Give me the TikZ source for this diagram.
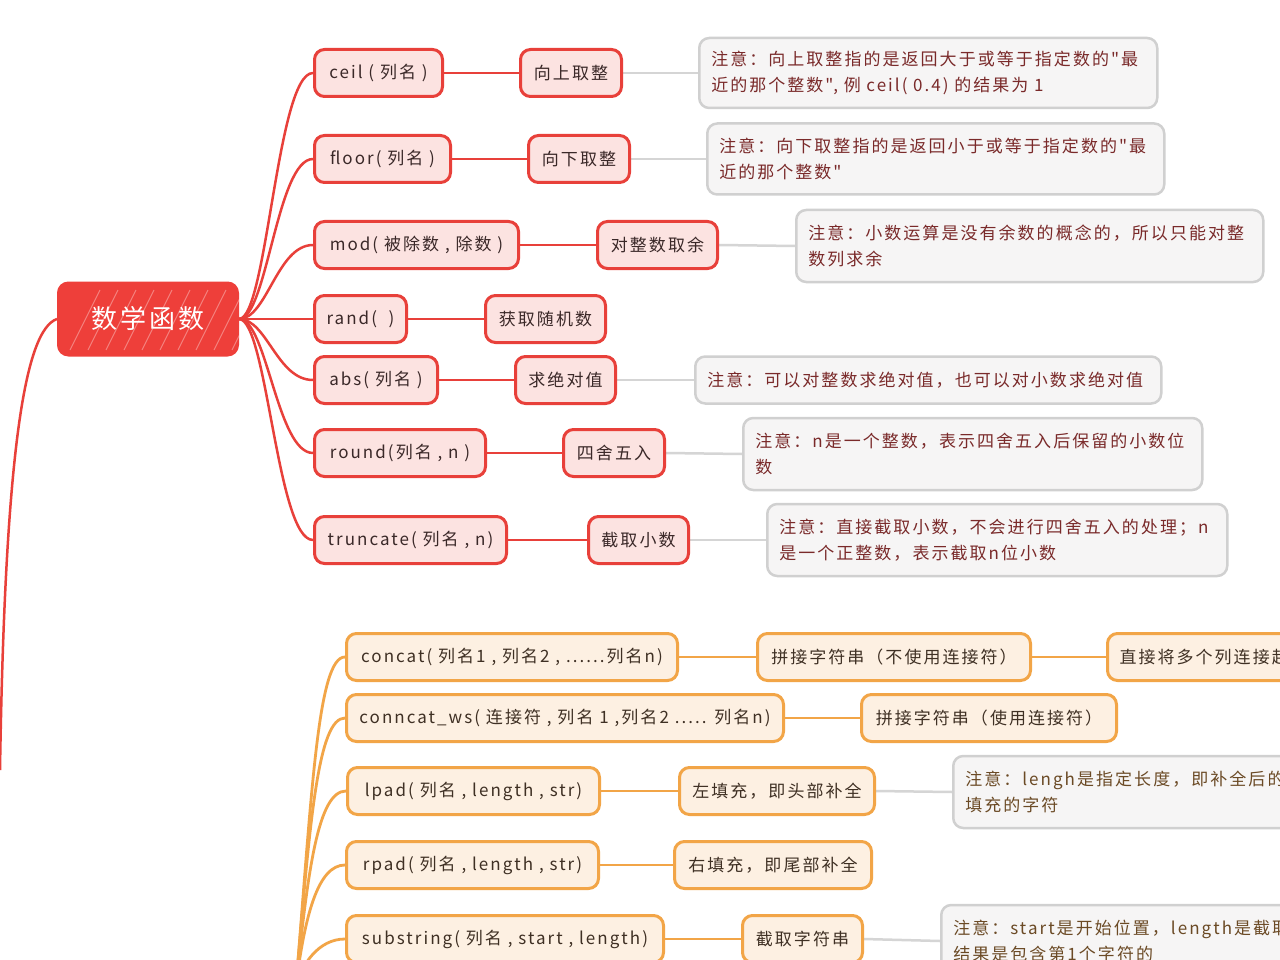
\documentclass[tikz,border=0pt]{standalone}
\usepackage{fontspec}
\newfontfamily\cjk[LetterSpace=12]{Noto Sans CJK SC}
\definecolor{rootred}{HTML}{EE3F3A}
\definecolor{redline}{HTML}{E8403A}
\definecolor{pinkfill}{HTML}{FCE3E1}
\definecolor{txtdark}{HTML}{3A2828}
\definecolor{notefill}{HTML}{F6F5F5}
\definecolor{notegray}{HTML}{D0D0D0}
\definecolor{linkgray}{HTML}{D5D5D5}
\definecolor{notered}{HTML}{7A2A2A}
\definecolor{orangeline}{HTML}{F2A547}
\definecolor{peach}{HTML}{FDF0E2}
\definecolor{txtbrown}{HTML}{3F3024}
\definecolor{notebrown}{HTML}{6B4A25}
\pgfdeclarelayer{back}
\pgfdeclarelayer{links}
\pgfsetlayers{back,links,main}
\tikzset{
  basebox/.style={rounded corners=10pt, line width=3pt, minimum height=47pt, inner sep=0pt, anchor=west,
    font=\cjk\fontsize{17}{26}\selectfont},
  rootbox/.style={basebox, fill=rootred, draw=rootred, text=white, font=\cjk\fontsize{26}{30}\selectfont,
    minimum width=179pt, minimum height=72pt},
  rnode/.style={basebox, fill=pinkfill, draw=redline, text=txtdark},
  onode/.style={basebox, fill=peach, draw=orangeline, text=txtbrown},
  notebox/.style={basebox, fill=notefill, draw=notegray, line width=2.5pt, align=left, inner xsep=12pt,
    text width=#1},
  rnote/.style={notebox=#1, text=notered},
  onote/.style={notebox=#1, text=notebrown},
  rlink/.style={draw=redline, line width=2.5pt},
  olink/.style={draw=orangeline, line width=2.8pt},
  glink/.style={draw=linkgray, line width=2.5pt}
}
\begin{document}
\begin{tikzpicture}[x=1pt,y=-1pt]
\useasboundingbox (0,0) rectangle (1280,960);
\begin{pgfonlayer}{back}
\fill[white] (0,0) rectangle (1280,960);
\end{pgfonlayer}
\begin{scope}
\clip (0,0) rectangle (1280,960);
% ---------- red branch ----------
\node[rootbox] (root) at (57,319) {数学函数};
\begin{scope}
\clip[rounded corners=10pt] (root.south west) rectangle (root.north east);
\foreach \i in {0,...,9}{
  \draw[white, opacity=0.35, line width=1pt] ({70+\i*18},350) -- ({100+\i*18},290);
}
\end{scope}
\coordinate (down) at (0,770);

\node[rnode, minimum width=128pt] (c1) at (313,73) {ceil ( 列名 )};
\node[rnode, minimum width=136pt] (c2) at (313,159) {floor( 列名 )};
\node[rnode, minimum width=204pt] (c3) at (313,245) {mod( 被除数 , 除数 )};
\node[rnode, minimum width=92pt] (c4) at (313,319) {rand(\ \ )};
\node[rnode, minimum width=123pt] (c5) at (313,380) {abs( 列名 )};
\node[rnode, minimum width=171pt] (c6) at (313,453) {round(列名 , n )};
\node[rnode, minimum width=192pt] (c7) at (313,540) {truncate( 列名 , n)};

\node[rnode, minimum width=101pt] (d1) at (519,73) {向上取整};
\node[rnode, minimum width=101pt] (d2) at (527,159) {向下取整};
\node[rnode, minimum width=120pt] (d3) at (596,245) {对整数取余};
\node[rnode, minimum width=120pt] (d4) at (484,319) {获取随机数};
\node[rnode, minimum width=100pt] (d5) at (514,380) {求绝对值};
\node[rnode, minimum width=101pt] (d6) at (562,453) {四舍五入};
\node[rnode, minimum width=100pt] (d7) at (587,540) {截取小数};

\node[rnote=434pt, minimum height=70pt] (n1) at (698,73) {注意：向上取整指的是返回大于或等于指定数的"最\\近的那个整数", 例 ceil( 0.4) 的结果为 1};
\node[rnote=433pt, minimum height=71pt] (n2) at (706,159) {注意：向下取整指的是返回小于或等于指定数的"最\\近的那个整数"};
\node[rnote=443pt, minimum height=72pt] (n3) at (795,246) {注意：小数运算是没有余数的概念的，所以只能对整\\数列求余};
\node[rnote=442pt, minimum height=47pt] (n5) at (694,380) {注意：可以对整数求绝对值，也可以对小数求绝对值};
\node[rnote=435pt, minimum height=72pt] (n6) at (742,454) {注意：n是一个整数，表示四舍五入后保留的小数位\\数};
\node[rnote=436pt, minimum height=72pt] (n7) at (766,540) {注意：直接截取小数，不会进行四舍五入的处理；n\\是一个正整数，表示截取n位小数};

% ---------- orange branch ----------
\coordinate (trunk) at (296,985);
\node[onode, minimum width=331pt] (e1) at (345,657) {concat( 列名1 , 列名2 , ......列名n)};
\node[onode, minimum width=437pt] (e2) at (345,718) {conncat\_ws( 连接符 , 列名 1 ,列名2 ..... 列名n)};
\node[onode, minimum width=252pt] (e3) at (346,791) {lpad( 列名 , length , str)};
\node[onode, minimum width=252pt] (e4) at (345,865) {rpad( 列名 , length , str)};
\node[onode, minimum width=317pt] (e5) at (345,939) {substring( 列名 , start , length)};

\node[onode, minimum width=273pt] (f1) at (756,657) {拼接字符串（不使用连接符）};
\node[onode, minimum width=255pt] (f2) at (860,718) {拼接字符串（使用连接符）};
\node[onode, minimum width=195pt] (f3) at (678,791) {左填充，即头部补全};
\node[onode, minimum width=197pt] (f4) at (673,865) {右填充，即尾部补全};
\node[onode, minimum width=120pt] (f5) at (741,939) {截取字符串};
\node[onode, minimum width=240pt, align=left, text width=216pt, inner xsep=12pt] (g1) at (1106,657) {直接将多个列连接起};

\node[onote=420pt, minimum height=72pt] (h3) at (952,792) {注意：lengh是指定长度，即补全后的\\填充的字符};
\node[onote=420pt, minimum height=72pt] (h5) at (940,941) {注意：start是开始位置，length是截取\\结果是包含第1个字符的};
\end{scope}

% ---------- connectors ----------
\begin{pgfonlayer}{links}
\clip (0,0) rectangle (1280,960);
\foreach \n in {c1,c2,c3,c4,c5,c6,c7}{
  \draw[rlink] (root.east) .. controls +(28,0) and +(-36,0) .. (\n.west);
}
\draw[rlink] (root.west) .. controls (25,330) and (5,450) .. (down);
\foreach \a/\b in {c1/d1,c2/d2,c3/d3,c4/d4,c5/d5,c6/d6,c7/d7}{
  \draw[rlink] (\a.east) -- (\b.west);
}
\foreach \a/\b in {d1/n1,d2/n2,d3/n3,d5/n5,d6/n6,d7/n7}{
  \draw[glink] (\a.east) -- (\b.west);
}
\draw[olink] (trunk) .. controls (312,790) and (318,657) .. (e1.west);
\draw[olink] (trunk) .. controls (310,820) and (318,718) .. (e2.west);
\draw[olink] (trunk) .. controls (308,870) and (318,791) .. (e3.west);
\draw[olink] (trunk) .. controls (305,915) and (318,865) .. (e4.west);
\draw[olink] (trunk) .. controls (302,965) and (318,939) .. (e5.west);
\foreach \a/\b in {e1/f1,e2/f2,e3/f3,e4/f4,e5/f5,f1/g1}{
  \draw[olink] (\a.east) -- (\b.west);
}
\foreach \a/\b in {f3/h3,f5/h5}{
  \draw[glink] (\a.east) -- (\b.west);
}
\end{pgfonlayer}
\end{tikzpicture}
\end{document}
